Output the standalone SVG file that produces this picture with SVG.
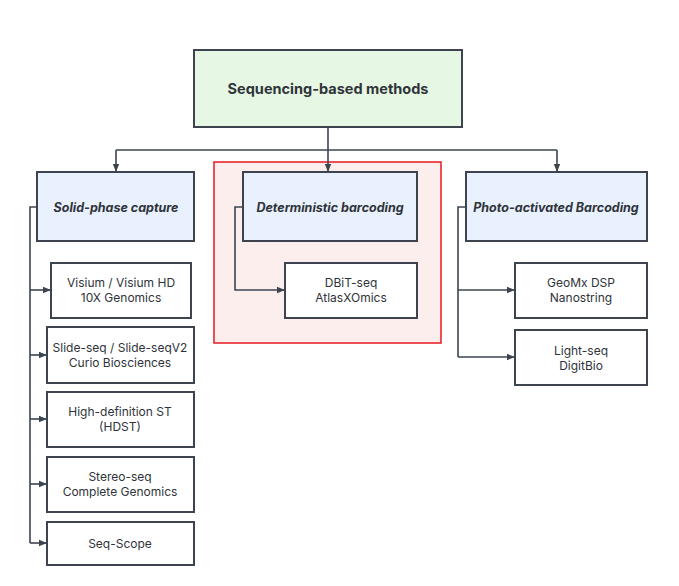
<svg xmlns="http://www.w3.org/2000/svg" width="679" height="586" viewBox="0 0 679 586">
<defs><marker id="a" viewBox="0 0 10 10" refX="10" refY="5" markerWidth="5" markerHeight="5" orient="auto"><path d="M0,1 L10,5 L0,9 z" fill="#3d4450"/></marker></defs>
<style>
.b{fill:#fff;stroke:#3d4450;stroke-width:2}
.h{fill:#e8f1fd;stroke:#3d4450;stroke-width:2}
.t{font-family:Inter,"Liberation Sans",sans-serif;font-size:12px;fill:#2f333a;text-anchor:middle}
.i{font-weight:bold;font-style:italic;font-size:12.5px}
.c{fill:none;stroke:#3d4450;stroke-width:1.6}
</style>
<rect width="679" height="586" fill="#fff"/>
<rect x="214" y="162" width="227" height="181" fill="#fdeeee" stroke="#e8262c" stroke-width="1.6"/>
<g class="conn">
<path class="c" d="M328,127 V172" marker-end="url(#a)"/>
<path class="c" d="M116,150 H557"/>
<path class="c" d="M116,150 V172" marker-end="url(#a)"/>
<path class="c" d="M557,150 V172" marker-end="url(#a)"/>
<path class="c" d="M37,207 H30 V543"/>
<path class="c" d="M30,290 H51" marker-end="url(#a)"/>
<path class="c" d="M30,355 H47" marker-end="url(#a)"/>
<path class="c" d="M30,419 H47" marker-end="url(#a)"/>
<path class="c" d="M30,484 H47" marker-end="url(#a)"/>
<path class="c" d="M30,543 H47" marker-end="url(#a)"/>
<path class="c" d="M243,207 H235 V290 H285" marker-end="url(#a)"/>
<path class="c" d="M466,207 H458 V357"/>
<path class="c" d="M458,290 H515" marker-end="url(#a)"/>
<path class="c" d="M458,357 H515" marker-end="url(#a)"/>
</g>
<g id="root"><rect x="194" y="50" width="268" height="77" fill="#e6f8e3" stroke="#3d4450" stroke-width="2"/><text class="t" x="328" y="94" style="font-weight:bold;font-size:14.5px">Sequencing-based methods</text></g>
<g id="solid"><rect class="h" x="37" y="172" width="157" height="69"/><text class="t i" x="116" y="212">Solid-phase capture</text></g>
<g id="det"><rect class="h" x="243" y="172" width="174" height="69"/><text class="t i" x="330" y="212">Deterministic barcoding</text></g>
<g id="photo"><rect class="h" x="466" y="172" width="181" height="69"/><text class="t i" x="556" y="212">Photo-activated Barcoding</text></g>
<g id="visium"><rect class="b" x="51" y="263" width="140" height="55"/><text class="t" x="121" y="287">Visium / Visium HD</text><text class="t" x="121" y="302">10X Genomics</text></g>
<g id="slide"><rect class="b" x="47" y="327" width="147" height="56"/><text class="t" x="120" y="352">Slide-seq / Slide-seqV2</text><text class="t" x="120" y="367">Curio Biosciences</text></g>
<g id="hdst"><rect class="b" x="47" y="392" width="147" height="55"/><text class="t" x="120" y="416">High-definition ST</text><text class="t" x="120" y="431">(HDST)</text></g>
<g id="stereo"><rect class="b" x="47" y="457" width="147" height="55"/><text class="t" x="120" y="481">Stereo-seq</text><text class="t" x="120" y="496">Complete Genomics</text></g>
<g id="seqscope"><rect class="b" x="47" y="522" width="147" height="43"/><text class="t" x="120" y="548">Seq-Scope</text></g>
<g id="dbit"><rect class="b" x="285" y="263" width="132" height="55"/><text class="t" x="351" y="287">DBiT-seq</text><text class="t" x="351" y="302">AtlasXOmics</text></g>
<g id="geomx"><rect class="b" x="515" y="263" width="132" height="55"/><text class="t" x="581" y="287">GeoMx DSP</text><text class="t" x="581" y="302">Nanostring</text></g>
<g id="light"><rect class="b" x="515" y="330" width="132" height="55"/><text class="t" x="581" y="355">Light-seq</text><text class="t" x="581" y="370">DigitBio</text></g>
</svg>
